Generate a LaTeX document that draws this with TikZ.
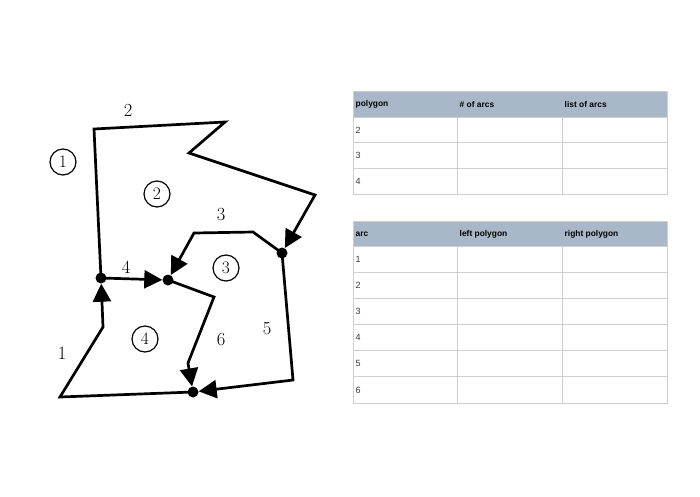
\documentclass[tikz,border=0pt]{standalone}
\usepackage{fontspec}
\newfontfamily\tabfont{Liberation Sans}
\usetikzlibrary{arrows.meta}
\definecolor{hdr}{HTML}{A9B8C8}
\definecolor{grid}{HTML}{CFCFCF}
\definecolor{celltext}{HTML}{3A3A3A}
\tikzset{
  vtx/.style={circle,fill=black,inner sep=0pt,minimum size=11pt},
  arcline/.style={line width=2.7pt,-{Triangle[length=18pt,width=18pt]},line join=miter},
  arclabel/.style={font=\fontsize{18.5}{18.5}\selectfont,inner sep=0pt},
  polylabel/.style={circle,draw,line width=1.2pt,minimum size=26pt,inner sep=0pt,font=\fontsize{17.5}{17.5}\selectfont},
  hdrtext/.style={anchor=west,font=\tabfont\bfseries\fontsize{8.4}{8.4}\selectfont,inner sep=0pt},
  celltxt/.style={anchor=west,font=\tabfont\fontsize{9}{9}\selectfont,text=celltext,inner sep=0pt},
  gridline/.style={draw=grid,line width=0.8pt}
}
\begin{document}
\begin{tikzpicture}[x=1pt,y=-1pt]
\useasboundingbox (0,0) rectangle (700,496);
% vertices
\node[vtx] (A) at (101,278) {};
\node[vtx] (B) at (282,253) {};
\node[vtx] (C) at (168,280) {};
\node[vtx] (D) at (193,392) {};
% arcs
\draw[arcline] (A.center) -- (94,129) -- (225,122) -- (189,153) -- (315,195) -- (B);
\draw[arcline] (B.center) -- (253,232) -- (194,233) -- (C);
\draw[arcline] (A.center) -- (C);
\draw[arcline] (C.center) -- (214,297) -- (188,363) -- (D);
\draw[arcline] (B.center) -- (293,380) -- (D);
\draw[arcline] (D.center) -- (60,397) -- (103,327) -- (A);
% arc labels
\node[arclabel] (l2) at (128,110) {2};
\node[arclabel] (l3) at (221,215) {3};
\node[arclabel] (l4) at (126,267) {4};
\node[arclabel] (l6) at (221,340) {6};
\node[arclabel] (l5) at (267,329) {5};
\node[arclabel] (l1) at (62,353) {1};
% polygon labels
\node[polylabel] (p1) at (63,162) {1};
\node[polylabel] (p2) at (157,194) {2};
\node[polylabel] (p3) at (226,268) {3};
\node[polylabel] (p4) at (145,339) {4};
% table 1
\fill[hdr] (353,91) rectangle (667,117);
\draw[gridline] (353,91) rectangle (667,194);
\foreach \yy in {117,142.5,168.3} \draw[gridline] (353,\yy) -- (667,\yy);
\foreach \xx in {457.3,562.3} \draw[gridline] (\xx,117) -- (\xx,194);
\node[hdrtext] (t1h1) at (355.5,104) {polygon};
\node[hdrtext] (t1h2) at (459.5,104) {\# of arcs};
\node[hdrtext] (t1h3) at (564.5,104) {list of arcs};
\node[celltxt] (t1r1) at (355.5,130) {2};
\node[celltxt] (t1r2) at (355.5,155.5) {3};
\node[celltxt] (t1r3) at (355.5,181.3) {4};
% table 2
\fill[hdr] (353,221) rectangle (667,246.7);
\draw[gridline] (353,221) rectangle (667,403.3);
\foreach \yy in {246.7,272.3,298.3,324.3,350,376.7} \draw[gridline] (353,\yy) -- (667,\yy);
\foreach \xx in {457.3,562.3} \draw[gridline] (\xx,246.7) -- (\xx,403.3);
\node[hdrtext] (t2h1) at (355.5,234) {arc};
\node[hdrtext] (t2h2) at (459.5,234) {left polygon};
\node[hdrtext] (t2h3) at (564.5,234) {right polygon};
\node[celltxt] (t2r1) at (355.5,259.5) {1};
\node[celltxt] (t2r2) at (355.5,285.3) {2};
\node[celltxt] (t2r3) at (355.5,311.3) {3};
\node[celltxt] (t2r4) at (355.5,337.2) {4};
\node[celltxt] (t2r5) at (355.5,363.3) {5};
\node[celltxt] (t2r6) at (355.5,390) {6};
\end{tikzpicture}
\end{document}
